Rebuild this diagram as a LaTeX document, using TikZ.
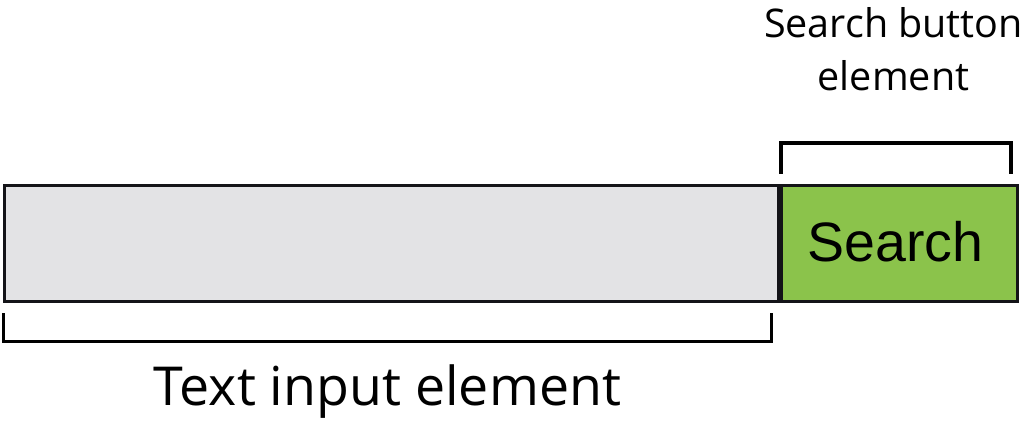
\documentclass[tikz,border=0pt]{standalone}
\usepackage{fontspec}
\setmainfont{Liberation Sans}
\newfontfamily\labelfont{Open Sans}
\definecolor{inputgray}{RGB}{227,227,229}
\definecolor{buttongreen}{RGB}{139,195,75}
\definecolor{edge}{RGB}{20,20,24}

\begin{document}
\begin{tikzpicture}[x=1pt, y=-1pt, line width=3pt,
  box/.style = {draw=edge, rectangle, inner sep=0pt, anchor=north west, minimum height=116pt},
  bracket/.style = {draw=black, line width=3.5pt, line cap=butt, line join=miter},
  label/.style = {font=\labelfont\fontsize{39.5}{53}\selectfont, align=center, anchor=base}]
\useasboundingbox (0,0) rectangle (1024,421);
\node[box, fill=inputgray, minimum width=774.5pt] (input) at (2.5,183.5) {};
\node[box, fill=buttongreen, minimum width=236pt] (button) at (input.north east) {};
\node[font=\fontsize{55.5}{60}\selectfont, anchor=base] (search) at (895.5,261.5) {Search};
\draw[bracket] (button.north west) ++(1,-10) -- ++(0,-30.5) -| ++(230,30.5);
\draw[bracket] (input.south west) ++(1,10.5) -- ++(0,28.5) -| ++(768,-28.5);
\node[label] (buttonlabel) at (893.5,90) {Search button\\element};
\node[label, font=\labelfont\fontsize{53.7}{60}\selectfont] (inputlabel) at (387.5,405) {Text input element};
\end{tikzpicture}
\end{document}
